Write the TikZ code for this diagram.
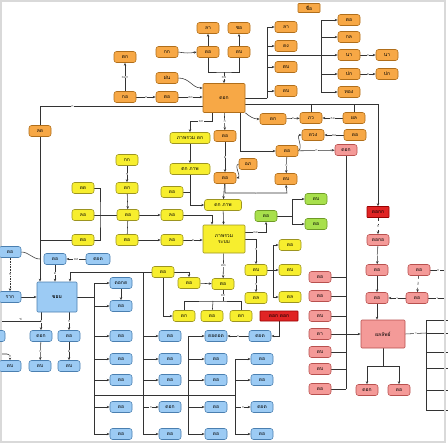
\documentclass[tikz,border=0pt]{standalone}
\usepackage{fontspec}
\newfontfamily\thfont[Script=Thai]{Loma}
\usepackage{xcolor}
\usetikzlibrary{arrows.meta,positioning,calc}
\pgfdeclarelayer{bg}
\pgfsetlayers{bg,main}
\definecolor{ofill}{HTML}{F7A846}
\definecolor{odraw}{HTML}{B06E1A}
\definecolor{yfill}{HTML}{F7EE2E}
\definecolor{ydraw}{HTML}{9C9420}
\definecolor{bfill}{HTML}{9CCBF4}
\definecolor{bdraw}{HTML}{4A7FB0}
\definecolor{pfill}{HTML}{F49A98}
\definecolor{pdraw}{HTML}{B8504E}
\definecolor{gfill}{HTML}{A8E04C}
\definecolor{gdraw}{HTML}{6E9A26}
\definecolor{rfill}{HTML}{E02424}

\begin{document}
\begin{tikzpicture}[x=1pt, y=-1pt,
    base/.style={draw, rounded corners=2.5pt, minimum width=22pt, minimum height=11pt, inner sep=1pt, line width=0.55pt, align=center, font=\thfont\fontsize{5}{6}\selectfont},
    onode/.style={base, draw=odraw, fill=ofill},
    ynode/.style={base, draw=ydraw, fill=yfill},
    bnode/.style={base, draw=bdraw, fill=bfill},
    pnode/.style={base, draw=pdraw, fill=pfill},
    gnode/.style={base, draw=gdraw, fill=gfill},
    rnode/.style={base, draw=red!60!black, fill=rfill, rounded corners=0.5pt},
    big/.style={rounded corners=1pt, minimum width=42pt, minimum height=29pt},
    arr/.style={-{Stealth[length=3pt, width=2.4pt]}, line width=0.55pt, draw=black!80},
    ln/.style={line width=0.55pt, draw=black!80},
    elab/.style={font=\thfont\fontsize{3.6}{4}\selectfont, fill=white, inner sep=0.3pt, text=black!70},
]
    \useasboundingbox (0, 0) rectangle (448, 448);
    \draw[gray!30, line width=1.5pt] (1, 1) rectangle (445, 442);

    % Orange, top
    \node[onode, rounded corners=0.8pt, minimum height=9pt] (otitle) at (309, 8) {ชื่อ};
    \node[onode] (or1) at (349, 20) {ตอ};
    \node[onode] (or2) at (349, 37) {กล};
    \node[onode] (or3) at (349, 55) {นา};
    \node[onode] (or4) at (349, 74) {ปก};
    \node[onode] (or5) at (349, 92) {ทอง};
    \node[onode] (or6) at (387, 55) {นา};
    \node[onode] (or7) at (387, 74) {ปก};
    \node[onode] (oc1) at (286, 27) {ลา};
    \node[onode] (oc2) at (286, 46) {ดง};
    \node[onode] (oc3) at (286, 67) {ตบ};
    \node[onode] (oc4) at (286, 91) {ดบ};
    \node[onode] (oa1) at (208, 28) {ลา};
    \node[onode] (oa2) at (239, 28) {ชอ};
    \node[onode] (oa3) at (167, 52) {กก};
    \node[onode] (oa4) at (208, 52) {ดอ};
    \node[onode] (oa5) at (239, 52) {ดบ};
    \node[onode] (oa6) at (167, 78) {ฝน};
    \node[onode] (oa7) at (167, 97) {ตอ};
    \node[onode, big] (bigo) at (224, 98) {ดอก};
    \node[onode] (ol1) at (125, 57) {ตก};
    \node[onode] (ol2) at (125, 97) {กอ};
    \node[onode] (ol3) at (40, 131) {ลด};

    % Orange, below the main box
    \node[onode, minimum width=26pt] (oo1) at (273, 119) {ดก};
    \node[onode] (ox) at (225, 136) {ดอ};
    \node[onode] (oo3) at (287, 151) {ดอ};
    \node[onode, minimum width=18pt] (oz) at (248, 164) {อภ};
    \node[onode] (oy) at (225, 178) {ดอ};
    \node[onode] (oo4) at (286, 179) {ดบ};
    \node[onode] (os1) at (311, 118) {ภว};
    \node[onode] (os2) at (354, 118) {ผล};
    \node[onode] (os3) at (313, 135) {ดวง};
    \node[onode] (os4) at (355, 135) {ดอ};

    % Yellow
    \node[ynode, minimum width=40pt] (ya1) at (190, 138) {ภาพรวม ดก};
    \node[ynode, minimum width=40pt] (ya2) at (190, 169) {ตก ภาพ};
    \node[ynode, minimum width=37pt] (ya3) at (223, 205) {ดก ภาพ};
    \node[ynode] (yl1) at (127, 160) {กก};
    \node[ynode] (yl2) at (127, 188) {ดก};
    \node[ynode] (yl3) at (128, 215) {ดอ};
    \node[ynode] (yl4) at (127, 240) {ตอ};
    \node[ynode] (yk1) at (83, 188) {ดด};
    \node[ynode] (yk2) at (83, 215) {ลอ};
    \node[ynode] (yk3) at (83, 240) {ตอ};
    \node[ynode] (ym1) at (172, 192) {ดอ};
    \node[ynode] (ym2) at (172, 215) {ลอ};
    \node[ynode] (ym3) at (172, 240) {ลอ};
    \node[ynode, big, minimum height=28pt] (bigy) at (224, 239) {ภาพรวม\\ระบบ};
    \node[ynode] (yb1) at (223, 284) {ตอ};
    \node[ynode] (yb2) at (189, 283) {ดอ};
    \node[ynode] (yb3) at (163, 272) {ดอ};
    \node[ynode] (yc1) at (256, 270) {ดบ};
    \node[ynode] (yc2) at (256, 298) {ดล};
    \node[ynode] (yd1) at (290, 245) {ดอ};
    \node[ynode] (yd2) at (290, 270) {ดบ};
    \node[ynode] (yd3) at (290, 297) {ดล};
    \node[ynode] (yt1) at (184, 316) {ดก};
    \node[ynode] (yt2) at (212, 316) {ดอ};
    \node[ynode] (yt3) at (241, 316) {ดก};

    % Green and red
    \node[gnode] (g1) at (266, 216) {ดอ};
    \node[gnode] (g2) at (316, 199) {ดบ};
    \node[gnode] (g3) at (316, 224) {ดอ};
    \node[rnode] (rd1) at (378, 212) {ดอกก};
    \node[rnode, minimum width=38pt, minimum height=10pt] (rd2) at (279, 316) {ดอก ดอก};

    % Pink
    \node[pnode] (p1) at (346, 150) {ดอก};
    \node[pnode] (p2) at (378, 240) {ดอกอ};
    \node[pnode] (p3) at (377, 270) {ดอ};
    \node[pnode] (p4) at (419, 270) {ดอ};
    \node[pnode] (p5) at (377, 298) {ดอ};
    \node[pnode] (p6) at (417, 298) {ดอ};
    \node[pnode, big, minimum width=44pt, minimum height=28pt] (bigp) at (383, 334) {ผลลัพธ์};
    \node[pnode] (pc1) at (367, 390) {ดอก};
    \node[pnode] (pc2) at (399, 390) {ดอ};
    \node[pnode] (pl1) at (320, 277) {ดอ};
    \node[pnode] (pl2) at (320, 296) {ดอ};
    \node[pnode] (pl3) at (320, 316) {ดบ};
    \node[pnode] (pl4) at (320, 334) {ดา};
    \node[pnode] (pl5) at (320, 352) {ดบ};
    \node[pnode] (pl6) at (320, 369) {ดบ};
    \node[pnode] (pl7) at (320, 389) {ดอ};

    % Blue
    \node[bnode] (b1) at (10, 252) {ดอ};
    \node[bnode] (b12) at (10, 297) {ราก};
    \node[bnode] (b2) at (55, 259) {ดอ};
    \node[bnode, minimum width=24pt] (b3) at (98, 259) {ดอด};
    \node[bnode, big, minimum width=40pt, minimum height=30pt] (bigb) at (57, 297) {\bfseries ขอบ};
    \node[bnode] (b4) at (121, 283) {ดอกด};
    \node[bnode] (b5) at (121, 306) {ดอ};
    \node[bnode] (b6) at (41, 336) {ดอก};
    \node[bnode] (b7) at (69, 336) {ดอ};
    \node[bnode] (b8) at (40, 366) {ดบ};
    \node[bnode] (b9) at (69, 366) {ดบ};
    \node[bnode] (b10) at (10, 366) {ดบ};
    \node[bnode] (b11) at (-6, 336) {};
    \node[bnode] (bA1) at (121, 336) {ดอ};
    \node[bnode] (bA2) at (121, 359) {ดอ};
    \node[bnode] (bA3) at (121, 380) {ดอ};
    \node[bnode] (bA4) at (121, 407) {ดอ};
    \node[bnode] (bA5) at (121, 434) {ดอ};
    \node[bnode] (bB1) at (170, 336) {ดอ};
    \node[bnode] (bB2) at (170, 359) {ดอ};
    \node[bnode] (bB3) at (170, 380) {ดอ};
    \node[bnode] (bB4) at (170, 407) {ดอก};
    \node[bnode] (bB5) at (170, 434) {ดอ};
    \node[bnode] (bC1) at (216, 336) {ดอดอด};
    \node[bnode] (bC2) at (216, 359) {ดอ};
    \node[bnode] (bC3) at (216, 380) {ดอ};
    \node[bnode] (bC4) at (216, 407) {ดอ};
    \node[bnode] (bC5) at (216, 434) {ดอ};
    \node[bnode] (bt2) at (260, 336) {ดอด};
    \node[bnode] (bD1) at (262, 359) {ดอ};
    \node[bnode] (bD2) at (262, 380) {ดอ};
    \node[bnode] (bD3) at (262, 407) {ดอด};
    \node[bnode] (bD4) at (262, 434) {ดอ};

    \begin{pgfonlayer}{bg}
    % Top right
    \coordinate (jo) at (267, 98);
    \coordinate (jr) at (321, 55);
    \draw[ln] (bigo.east) -- (jo);
    \draw[arr] (jo) |- (oc1);
    \draw[arr] (jo) |- (oc2);
    \draw[arr] (jo) |- (oc3);
    \draw[arr] (jo) |- (oc4);
    \draw[arr] (jo) |- (or3);
    \draw[arr] (jr) |- (or1);
    \draw[arr] (jr) |- (or2);
    \draw[arr] (jr) |- (or4);
    \draw[arr] (jr) |- (or5);
    \draw[arr] (or3) -- node[elab] {ก} (or6);
    \draw[arr] (or4) -- node[elab] {ด} (or7);

    % Top left
    \coordinate (jm) at (224, 72);
    \draw[arr] (oa4) -- (oa1);
    \draw[arr] (oa5) -- (oa2);
    \draw[arr] (oa3.east) to[out=-10, in=190] (oa4.west);
    \draw[ln] (oa4.south) |- (jm) -| (oa5.south);
    \draw[arr] (jm) -- node[elab] {ลข} (bigo.north);
    \draw[arr] (oa6.east) .. controls (190, 78) and (192, 88) .. (bigo.west |- 0,88);
    \draw[arr] (oa7) -- node[elab] {ลด} (bigo.west |- oa7);
    \draw[arr] (ol2) -- node[elab] {ลอก} (ol1);
    \draw[arr] (ol2) -- node[elab] {ภ} (oa7);
    \coordinate (jl) at (40, 106);
    \draw[ln] (bigo.west |- jl) -- node[elab, pos=0.8] {ก} (jl);
    \draw[arr] (jl) -- (jl |- bigb.north);
    \coordinate (jr2) at (378, 104);
    \draw[ln] (bigo.east |- jr2) -- (jr2);
    \draw[arr] (jr2) -- (rd1);
    \draw[ln] (os1.north) -- (os1.north |- jr2);
    \draw[ln] (os2.north) -- (os2.north |- jr2);

    % Below the main box
    \draw[arr] (bigo.south east) to[out=-40, in=180] (oo1);
    \draw[arr] (oo1) -- node[elab] {ก} (os1);
    \draw[arr] (os2) -- node[elab] {ลอ} (os1);
    \draw[arr] (os4) -- node[elab] {ลอ} (os3);
    \draw[arr] (oo3.east) to[out=30, in=180] (os3.west);
    \draw[arr] (bigo) -- node[elab] {ก} (ox);
    \draw[arr] (ox) -- node[elab] {ด} (oy);
    \draw[arr] (oz.west) to[out=190, in=10] (oy.east);
    \coordinate (jd) at (240, 151);
    \draw[ln] (jd |- bigo.south) -- (jd);
    \draw[arr] (jd) -- (oo3);
    \draw[arr] (oo3) -- node[elab] {ก} (p1);
    \draw[arr] (oo3) -- node[elab] {ก} (oo4);
    \coordinate (je) at (287, 193);
    \draw[arr] (oy.south) |- node[elab, pos=0.75] {อ} (je) -- (oo4.south);
    \draw[arr] (oy) -- (ya3);

    % Yellow, top
    \coordinate (jy) at (212, 121);
    \draw[arr] (jy |- bigo.south) -- (jy) -| node[elab, pos=0.25] {ลภ} (ya1.north);
    \draw[arr] (ya1) -- (ya2);
    \draw[arr] (ya2.south) |- (ya3.west);
    \draw[arr] (ya3) -- (bigy);
    \draw[ln] (ym1.east) -- (ym1.east -| ya2.south);

    % Yellow, left
    \coordinate (jk) at (100, 215);
    \draw[arr] (yl1) -- node[elab] {ช} (yl2);
    \draw[arr] (yl2) -- (yl3);
    \draw[ln] (yl3) -- (yl4);
    \draw[ln] (yk1.east) -| (jk) |- (yk3.east);
    \draw[ln] (yk2) -- (yl3);
    \draw[ln] (yk3) -- (jl |- yk3);
    \draw[arr] (yl3) -- (ym2);
    \draw[arr] (yl4) -- (ym3);
    \coordinate (jy5) at (212, 215);
    \draw[arr] (ym2) -- (jy5) -- (jy5 |- bigy.north);
    \draw[arr] (ym3) -- node[elab] {ด} (bigy.west |- ym3);

    % Green
    \coordinate (jg) at (266, 232);
    \draw[arr] (bigy.east |- jg) -- node[elab] {ดอ} (jg) -- (g1.south);
    \coordinate (jg2) at (292, 216);
    \draw[ln] (g1) -- (jg2);
    \draw[arr] (jg2) |- (g2);
    \draw[arr] (jg2) |- (g3);

    % Yellow, bottom
    \draw[arr] (bigy) -- node[elab] {ดด} (yb1);
    \draw[arr] (yb2) -- (yb1);
    \draw[arr] (yb3) -| (yb2.north);
    \draw[arr] (yb3) |- (yt1);
    \coordinate (jt) at (213, 301);
    \draw[ln] (yt1.north) |- (jt) -| (yt3.north);
    \draw[ln] (jt) -- (yt2);
    \draw[ln] (yb1) -- node[elab] {ลก} (yb1 |- jt);
    \draw[arr] (bigy.east) -| node[elab, pos=0.7] {ก} (yc1.north);
    \draw[arr] (yc1) -- node[elab] {ก} (yc2);
    \coordinate (jc) at (273, 270);
    \draw[ln] (yc1) -- (jc);
    \draw[arr] (jc) |- (yd1);
    \draw[arr] (jc) -- (yd2);
    \draw[arr] (jc) |- (yd3);

    % Red and pink
    \draw[arr, dashed] (rd1) -- node[elab] {ก} (p2);
    \draw[arr] (p2) -- node[elab] {ว} (p3);
    \draw[arr] (p3) -- (p5);
    \draw[arr, dashed] (p4) -- (p6);
    \draw[arr] (p6) -- node[elab] {ว} (p5);
    \coordinate (jp) at (446, 270);
    \draw[ln] (p4) -- node[elab] {ก} (jp);
    \coordinate (jp2) at (446, 298);
    \draw[ln] (p6) -- node[elab] {ว} (jp2);
    \draw[arr] (p5) -- (p5 |- bigp.north);
    \coordinate (jpb) at (383, 366);
    \draw[ln] (bigp) -- (jpb);
    \draw[arr] (jpb) -| (pc1);
    \draw[arr] (jpb) -| (pc2);
    \coordinate (jgrid) at (426, 333);
    \draw[ln] (bigp.east) -- node[elab] {ว} (jgrid);
    \draw[ln] (426, 320) -- (426, 410);
    \draw[ln] (426, 320) -- (448, 320);
    \draw[ln] (426, 333) -- (448, 333);
    \draw[ln] (426, 352) -- (448, 352);
    \draw[ln] (426, 368) -- (448, 368);
    \draw[ln] (426, 390) -- (448, 390);
    \draw[ln] (426, 410) -- (448, 410);
    \draw[ln] (p1.south) -- (p1.south |- pl7);
    \draw[ln] (p1.south |- pl1) -- (pl1);
    \draw[ln] (p1.south |- pl2) -- (pl2);
    \draw[ln] (p1.south |- pl3) -- (pl3);
    \draw[ln] (p1.south |- pl4) -- (pl4);
    \draw[ln] (p1.south |- pl5) -- (pl5);
    \draw[ln] (p1.south |- pl6) -- (pl6);
    \draw[ln] (p1.south |- pl7) -- (pl7);
    \draw[arr] (p1.south |- bigp) -- (bigp);

    % Blue
    \draw[ln] (b1.east) to[out=0, in=180] (jl |- b2);
    \draw[arr, densely dotted] (b1) -- node[elab] {ช} (b12);
    \draw[arr] (b12) -- (bigb);
    \draw[arr] (b2) -- node[elab] {ด} (b2 |- bigb.north);
    \draw[arr] (b3) -- node[elab] {ลล} (b2);
    \coordinate (jq) at (143, 272);
    \coordinate (jq2) at (70, 272);
    \draw[arr] (yb3) -- (jq2) -- (jq2 |- bigb.north);
    \coordinate (jq3) at (143, 434);
    \draw[ln] (jq) -- (jq3);
    \draw[arr] (jq |- bB1) -- (bB1);
    \draw[arr] (jq |- bB2) -- (bB2);
    \draw[arr] (jq |- bB3) -- (bB3);
    \draw[arr] (jq |- bB4) -- node[elab] {ก} (bB4);
    \draw[arr] (jq |- bB5) -- (bB5);
    \coordinate (jb1) at (94, 297);
    \draw[ln] (bigb) -- (jb1);
    \draw[arr] (jb1) |- (b4);
    \draw[arr] (jb1) |- (b5);
    \draw[arr] (jb1) |- (bA1);
    \draw[arr] (jb1) |- (bA2);
    \draw[arr] (jb1) |- (bA3);
    \draw[arr] (jb1) |- (bA4);
    \draw[arr] (jb1) |- (bA5);
    \draw[arr] (b4) -- (b5);
    \draw[arr] (bigb.south -| b6) -- node[elab] {ก} (b6);
    \coordinate (jw) at (0, 321);
    \draw[ln] (jw) -- node[elab, above] {ช} (b6 |- jw);
    \draw[arr] (bigb.south -| b7) -- node[elab] {ก} (b7);
    \draw[arr] (b6) -- node[elab] {ก} (b8);
    \draw[arr] (b7) -- node[elab] {ด} (b9);
    \coordinate (jw2) at (0, 354);
    \draw[arr, rounded corners=3pt] (jw2) -| node[elab, pos=0.7] {ภ} (b10.north);
    \coordinate (jh1) at (94, 395);
    \coordinate (jh2) at (235, 395);
    \draw[ln] (jh1) -- (jh2);
    \coordinate (jc1) at (188, 336);
    \coordinate (jc2) at (188, 434);
    \draw[ln] (jc1) -- (jc2);
    \draw[arr] (jc1) -- (bC1);
    \draw[arr] (jc1 |- bC2) -- (bC2);
    \draw[arr] (jc1 |- bC3) -- (bC3);
    \draw[arr] (jc1 |- bC4) -- (bC4);
    \draw[arr] (jc1 |- bC5) -- (bC5);
    \coordinate (jd1) at (235, 359);
    \coordinate (jd2) at (235, 434);
    \draw[ln] (jd1) -- (jd2);
    \draw[arr] (jd1) -- (bD1);
    \draw[arr] (jd1 |- bD2) -- (bD2);
    \draw[arr] (jd1 |- bD3) -- node[elab] {ก} (bD3);
    \draw[arr] (jd1 |- bD4) -- (bD4);
    \draw[arr] (rd2) |- (bt2);
    \draw[arr] (bt2) -- node[elab] {ก} (bC1);
    \end{pgfonlayer}
\end{tikzpicture}
\end{document}
